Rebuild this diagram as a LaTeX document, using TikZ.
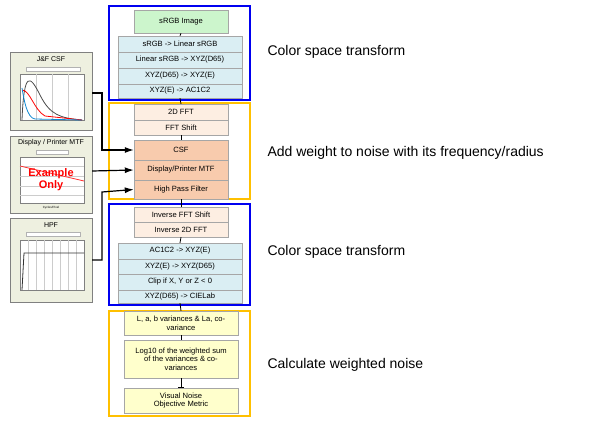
\documentclass[tikz,border=0pt]{standalone}
\usepackage{fontspec}
\setmainfont{Liberation Sans}
\usetikzlibrary{arrows.meta}
\definecolor{bl}{HTML}{DAEEF3}
\definecolor{gr}{HTML}{CCF5CC}
\definecolor{pe}{HTML}{FDEEE2}
\definecolor{og}{HTML}{F8CBAD}
\definecolor{ye}{HTML}{FFFFCC}
\definecolor{frb}{HTML}{0000F0}
\definecolor{fro}{HTML}{FFC000}
\definecolor{pn}{HTML}{EEF0E0}
\begin{document}
\begin{tikzpicture}[x=1pt,y=-1pt,
 cell/.style={draw=gray!70,font=\fontsize{7.6}{8.6}\selectfont,inner sep=0pt},
 grp/.style={draw=gray!80},
 frame/.style={line width=2pt},
 lab/.style={anchor=west,font=\fontsize{14}{16}\selectfont},
 arr/.style={-{Latex[length=9pt,width=6pt]},line width=1.2pt},
 lnk/.style={line width=0.8pt},
 pnl/.style={draw=gray,fill=pn},
 ptl/.style={font=\fontsize{7}{8}\selectfont}]
\useasboundingbox (0,0) rectangle (600,423);
% frames
\draw[frame,frb] (109,6) rectangle (250,100);
\draw[frame,fro] (109,103) rectangle (250,199);
\draw[frame,frb] (109,204) rectangle (250,305);
\draw[frame,fro] (109,311) rectangle (250,416);
% block 1
\node[cell,fill=gr,minimum width=94,minimum height=23] (srgb) at (181,21.5) {sRGB Image};
\node[cell,fill=bl,minimum width=124,minimum height=16] (c1) at (180,44) {sRGB -> Linear sRGB};
\node[cell,fill=bl,minimum width=124,minimum height=16] (c2) at (180,60) {Linear sRGB -> XYZ(D65)};
\node[cell,fill=bl,minimum width=124,minimum height=16] (c3) at (180,76) {XYZ(D65) -> XYZ(E)};
\node[cell,fill=bl,minimum width=124,minimum height=14] (c4) at (180,91) {XYZ(E) -> AC1C2};
% block 2
\node[cell,fill=pe,minimum width=94,minimum height=16] (f1) at (181,112) {2D FFT};
\node[cell,fill=pe,minimum width=94,minimum height=15] (f2) at (181,127.5) {FFT Shift};
\node[cell,fill=og,minimum width=94,minimum height=20] (csf) at (181,150) {CSF};
\node[cell,fill=og,minimum width=94,minimum height=20] (mtf) at (181,170) {Display/Printer MTF};
\node[cell,fill=og,minimum width=94,minimum height=19] (hpf) at (181,189.5) {High Pass Filter};
% block 3
\node[cell,fill=pe,minimum width=94,minimum height=15] (i1) at (181,214.5) {Inverse FFT Shift};
\node[cell,fill=pe,minimum width=94,minimum height=15] (i2) at (181,229.5) {Inverse 2D FFT};
\node[cell,fill=bl,minimum width=124,minimum height=16] (d1) at (180,251) {AC1C2 -> XYZ(E)};
\node[cell,fill=bl,minimum width=124,minimum height=15] (d2) at (180,266.5) {XYZ(E) -> XYZ(D65)};
\node[cell,fill=bl,minimum width=124,minimum height=16] (d3) at (180,282) {Clip if X, Y or Z < 0};
\node[cell,fill=bl,minimum width=124,minimum height=13] (d4) at (180,296.5) {XYZ(D65) -> CIELab};
% block 4
\node[cell,fill=ye,minimum width=114,minimum height=24,align=center] (y1) at (181,323) {L, a, b variances \& La, co-\\variance};
\node[cell,fill=ye,minimum width=114,minimum height=38,align=center] (y2) at (181,359) {Log10 of the weighted sum\\of the variances \& co-\\variances};
\node[cell,fill=ye,minimum width=114,minimum height=25,align=center] (y3) at (181,400.5) {Visual Noise\\Objective Metric};
% links
\draw[lnk] (srgb.south) -- (c1.north);
\draw[lnk] (c4.south) -- (f1.north);
\draw[lnk] (f2.south) -- (csf.north);
\draw[lnk] (hpf.south) -- (i1.north);
\draw[lnk] (i2.south) -- (d1.north);
\draw[lnk] (d4.south) -- (y1.north);
\draw[lnk] (y1.south) -- (y2.north);
\draw[lnk,-|] (y2.south) -- (y3.north);
% labels
\node[lab] (l1) at (264,52) {Color space transform};
\node[lab] (l2) at (264,153) {Add weight to noise with its frequency/radius};
\node[lab] (l3) at (264,252) {Color space transform};
\node[lab] (l4) at (264,365) {Calculate weighted noise};
% panels
\node[pnl,minimum width=82,minimum height=78,inner sep=0pt] (p1) at (51,91) {};
\node[ptl] at (51,59) {J\&F CSF};
\draw[fill=white,draw=gray] (20,74) rectangle (84,120);
\foreach \x in {36,52,68} \draw[gray!40] (\x,74)--(\x,120);
\draw[black!70,thick] (22,120) .. controls (24,70) and (30,75) .. (40,95) .. controls (50,115) and (60,118) .. (82,120);
\draw[red,thick] (22,90) .. controls (30,90) and (34,110) .. (45,116) -- (82,120);
\draw[cyan!70!blue,thick] (22,88) .. controls (24,100) and (27,118) .. (35,119) -- (82,120);
\draw[fill=white,draw=gray!60] (26,67) rectangle (80,71);
\node[pnl,minimum width=82,minimum height=77,inner sep=0pt] (p2) at (51,174.5) {};
\node[ptl] at (51,143) {Display / Printer MTF};
\draw[fill=white,draw=gray!60] (36,150) rectangle (68,154);
\draw[fill=white,draw=gray] (20,157) rectangle (84,203);
\foreach \y in {166,176,186,195} \draw[gray!40] (20,\y)--(84,\y);
\draw[red!80,thick] (20,166) -- (84,181);
\node[red,font=\bfseries\fontsize{11}{12}\selectfont,align=center] at (51,180) {Example\\Only};
\node[ptl,font=\fontsize{3}{4}\selectfont] at (51,208) {Cycles/Pixel};
\node[pnl,minimum width=82,minimum height=84,inner sep=0pt] (p3) at (51,260) {};
\node[ptl] at (51,225) {HPF};
\draw[fill=white,draw=gray!60] (26,232) rectangle (80,236);
\draw[fill=white,draw=gray] (20,240) rectangle (84,290);
\foreach \x in {28,36,44,52,60,68,76} \draw[gray!40] (\x,240)--(\x,290);
\draw[black!80,thick] (22,290) -- (24,253) -- (84,253);
% arrows
\draw[arr] (p1.east|-0,93) -- (102,93) -- (102,150) -- (csf.west);
\draw[arr] (p2.east|-0,171) -- (mtf.west);
\draw[arr] (p3.east|-0,260) -- (102,260) -- (102,192) -- (hpf.west);
\end{tikzpicture}
\end{document}
